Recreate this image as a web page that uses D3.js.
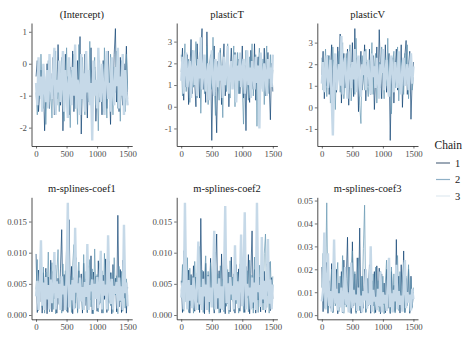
<!DOCTYPE html>
<html><head><meta charset="utf-8">
<script src="https://cdn.jsdelivr.net/npm/d3@7"></script>
<style>body{margin:0;background:#fff;} svg{display:block;} svg text{font-family:"Liberation Serif","DejaVu Serif",serif;}</style>
</head><body>
<svg id="chart" width="474" height="338"></svg>
<script>
// ---- data (thinned MCMC draws) ----
const panelNames = ["(Intercept)", "plasticT", "plasticV", "m-splines-coef1", "m-splines-coef2", "m-splines-coef3"];
const chainNames = ["1", "2", "3"];
const xTickValues = [0, 500, 1000, 1500];
const xTickLabels = ["0", "500", "1000", "1500"];
const yTickValues = [[-2, -1, 0, 1], [-1, 0, 1, 2, 3], [-1, 0, 1, 2, 3],
  [0, 0.005, 0.01, 0.015], [0, 0.005, 0.01, 0.015], [0, 0.01, 0.02, 0.03, 0.04, 0.05]];
const yTickLabels = [["-2", "-1", "0", "1"], ["-1", "0", "1", "2", "3"], ["-1", "0", "1", "2", "3"],
  ["0.000", "0.005", "0.010", "0.015"], ["0.000", "0.005", "0.010", "0.015"], ["0.00", "0.01", "0.02", "0.03", "0.04", "0.05"]];
const nIterations = 1500;

const interceptC1 = [-0.4,0.1,-1.5,-0.9,-0.2,-1.2,-0.6,-2.1,-1.0,0.0,-0.8,-1.4,-0.3,-0.9,0.2,-1.6,-0.5,-1.1,0.6,-0.7,-1.3,-0.2,-2.1,-0.9,0.3,-1.0,-0.4,-1.6,-0.1,-0.8,0.4,-1.5,-0.6,-1.2,0.1,-0.9,0.85,-2.2,-0.5,-1.1,0.3,-0.7,-1.7,-0.2,-1.0,0.5,-1.3,-0.6,-0.1,-1.8,-0.8,0.2,-1.2,-0.4,-1.6,0.1,-0.9,-0.3,-1.4,0.4,-0.7,-1.9,-0.2,-1.0,0.3,1.1,-1.2,-0.6,-1.5,0.2,-0.8,-1.3,0.0,-0.5,0.55,-1.1];
const interceptC2 = [-0.9,-1.6,-0.2,-1.1,0.3,-0.7,-1.4,-0.4,-1.9,-0.6,0.1,-1.2,-0.8,-1.7,-0.1,-1.0,0.4,-1.3,-0.5,-1.5,-0.3,0.2,-1.1,-1.8,-0.6,0.5,-1.2,-0.8,-2.0,-0.2,-1.0,0.3,-1.4,-0.7,-1.9,0.6,-0.5,-1.3,0.2,-0.9,-1.6,0.0,-0.6,-1.2,0.7,-1.0,-2.0,-0.4,0.2,-1.3,-0.7,-2.1,0.1,-1.0,-0.3,-1.5,0.5,-0.8,-1.7,-0.2,-1.1,0.3,-0.6,-1.6,-0.1,-0.9,0.4,-1.4,-0.5,-1.8,0.1,-1.0,-0.4,-1.5,0.3,-0.8];
const interceptC3 = [-0.6,-1.3,0.2,-1.0,-0.4,-1.5,0.0,-0.8,-1.2,-0.2,-1.4,0.3,-0.7,-1.1,-0.3,0.5,-1.6,-0.5,-0.9,0.1,-1.2,-0.6,0.4,-1.5,-0.2,-0.9,-1.7,0.2,-0.7,-1.3,-0.1,-1.0,0.6,-1.4,-0.5,-0.8,-1.6,0.3,-1.1,-0.3,-1.5,0.4,-0.9,-0.2,-1.3,-0.6,-2.4,0.1,-1.0,-0.5,-1.4,0.5,-0.8,-1.2,0.0,-0.7,-1.6,-0.3,0.4,-1.1,-0.6,-1.5,0.2,-0.9,-1.3,-0.1,-0.7,0.5,-1.4,-0.4,-1.0,0.3,-1.6,-0.2,-0.9,-1.3];

const plasticTC1 = [1.6,2.7,0.3,1.9,0.9,2.4,0.1,1.5,3.1,0.6,2.2,1.1,0.0,2.9,1.4,0.4,2.5,3.6,0.8,1.8,0.2,3.45,1.2,0.5,2.3,-1.55,1.7,2.8,0.7,-1.2,2.1,1.3,2.6,0.1,1.9,2.9,0.5,1.4,2.2,0.0,1.6,2.7,0.9,1.2,2.5,0.3,1.8,2.2,0.6,1.5,2.8,0.4,1.9,-1.1,2.4,1.0,0.2,2.6,1.3,0.8,2.9,0.3,1.7,2.3,-0.2,1.4,2.0,0.9,2.7,0.5,1.8,2.5,1.1,-0.6,2.0,0.7];
const plasticTC2 = [2.4,0.5,1.8,2.9,0.7,1.4,2.2,0.2,1.6,2.6,0.9,1.9,3.0,0.4,1.3,2.5,-0.3,1.7,2.1,0.6,1.5,2.8,0.1,1.9,2.4,0.8,3.2,1.0,-0.4,2.0,1.2,0.3,2.7,1.5,-0.5,2.3,1.8,0.7,2.9,1.1,0.4,2.1,1.6,2.8,0.0,1.3,2.5,0.6,1.9,2.2,0.9,-0.8,1.7,2.6,1.2,0.3,2.3,1.6,2.9,0.5,1.4,2.4,-0.9,1.8,2.7,0.8,1.5,2.2,0.1,1.9,2.8,0.6,1.3,2.4,0.9,1.7];
const plasticTC3 = [1.2,2.3,0.6,1.8,2.5,0.9,1.5,2.1,0.4,1.7,2.6,1.0,1.9,0.5,2.2,1.3,3.2,0.8,1.6,2.4,0.7,1.4,2.0,0.3,1.8,2.6,1.1,0.5,2.2,1.5,0.9,2.5,1.2,1.9,0.4,2.3,1.0,1.7,2.8,0.6,1.4,2.1,0.8,1.6,2.4,0.2,1.9,1.2,2.5,0.9,1.7,2.2,0.6,1.3,2.6,1.0,1.8,0.4,2.1,1.5,0.8,2.3,1.1,1.9,-1.0,2.5,1.4,0.7,2.0,1.6,0.5,2.2,1.3,1.8,0.9,2.4];

const plasticVC1 = [1.5,2.6,0.4,1.9,1.0,2.4,0.6,1.7,2.9,0.3,2.2,1.3,0.7,2.8,1.6,3.4,0.2,1.8,2.5,0.9,1.4,2.7,0.1,2.0,1.2,3.0,0.5,3.65,1.1,2.3,-0.2,1.7,2.6,0.8,1.5,2.9,0.3,2.1,1.0,2.7,0.6,1.8,2.4,-0.1,1.3,2.8,0.9,3.6,1.6,0.4,2.2,1.1,2.9,0.7,1.9,2.5,-1.53,1.4,2.3,0.2,1.7,2.7,0.8,2.0,1.2,2.9,0.0,1.6,2.4,3.1,0.6,1.9,2.6,-0.55,1.3,2.1];
const plasticVC2 = [2.3,0.8,1.6,2.7,0.5,1.9,2.4,0.2,1.4,2.8,1.1,-0.1,2.0,1.5,2.6,0.7,1.8,3.0,0.4,1.3,2.5,0.9,1.7,2.9,0.3,1.2,2.2,0.6,3.2,1.4,2.0,0.1,-0.75,2.4,1.6,0.8,2.7,1.1,0.5,2.2,1.5,3.0,0.6,1.9,2.5,0.2,1.3,2.1,0.9,2.8,1.7,0.4,2.3,1.0,3.2,0.7,1.5,-0.3,2.0,2.6,0.9,1.4,2.8,0.3,1.8,2.2,1.1,0.6,2.5,1.7,2.9,0.4,1.6,2.2,0.8,1.4];
const plasticVC3 = [1.1,2.1,0.7,1.7,2.4,0.9,1.4,2.2,0.5,-1.3,1.8,2.5,0.8,1.5,2.0,1.0,3.3,0.6,1.9,2.3,1.2,0.4,2.6,1.6,0.9,2.1,1.3,2.7,0.7,1.8,2.4,1.0,0.5,2.0,1.5,2.6,0.8,1.7,2.2,1.1,0.6,2.5,1.4,1.9,0.9,2.3,1.2,0.4,2.0,1.6,2.7,0.8,1.5,2.2,1.0,0.5,1.8,2.4,1.3,0.7,2.1,1.6,0.9,2.6,1.2,0.6,1.9,2.3,1.0,1.5,2.0,0.8,1.7,2.5,1.1,1.9];

const coef1C1 = [0.0098,0.0004,0.0072,0.0021,0.0085,0.0003,0.0068,0.0030,0.0075,0.0002,0.0061,0.0014,0.0088,0.0005,0.0070,0.0026,0.0080,0.0003,0.0059,0.0018,0.0074,0.0137,0.0006,0.0065,0.0022,0.0110,0.0004,0.0153,0.0035,0.0078,0.0002,0.0060,0.0019,0.0092,0.0005,0.0071,0.0028,0.0066,0.0003,0.0083,0.0015,0.0058,0.0004,0.0079,0.0024,0.0095,0.0002,0.0069,0.0031,0.0062,0.0006,0.0087,0.0017,0.0072,0.0003,0.0064,0.0025,0.0090,0.0004,0.0076,0.0020,0.0068,0.0002,0.0081,0.0033,0.0059,0.0005,0.0160,0.0013,0.0073,0.0004,0.0088,0.0027,0.0065,0.0003,0.0045];
const coef1C2 = [0.0041,0.0089,0.0007,0.0063,0.0118,0.0012,0.0077,0.0003,0.0069,0.0036,0.0101,0.0005,0.0058,0.0084,0.0009,0.0073,0.0002,0.0066,0.0105,0.0016,0.0056,0.0003,0.0082,0.0029,0.0071,0.0006,0.0094,0.0020,0.0062,0.0004,0.0079,0.0113,0.0011,0.0067,0.0003,0.0085,0.0034,0.0057,0.0008,0.0097,0.0023,0.0070,0.0004,0.0061,0.0089,0.0013,0.0074,0.0002,0.0106,0.0038,0.0065,0.0005,0.0083,0.0019,0.0071,0.0003,0.0099,0.0027,0.0060,0.0007,0.0086,0.0015,0.0068,0.0004,0.0092,0.0032,0.0063,0.0002,0.0078,0.0021,0.0070,0.0006,0.0084,0.0011,0.0058,0.0030];
const coef1C3 = [0.0030,0.0055,0.0008,0.0046,0.0120,0.0015,0.0052,0.0008,0.0061,0.0025,0.0048,0.0009,0.0057,0.0019,0.0043,0.0101,0.0009,0.0054,0.0027,0.0050,0.0008,0.0062,0.0033,0.0047,0.0008,0.0058,0.0180,0.0012,0.0049,0.0024,0.0056,0.0009,0.0140,0.0036,0.0051,0.0010,0.0060,0.0022,0.0045,0.0008,0.0053,0.0029,0.0114,0.0008,0.0048,0.0038,0.0057,0.0008,0.0050,0.0026,0.0061,0.0011,0.0044,0.0103,0.0009,0.0055,0.0031,0.0049,0.0009,0.0128,0.0042,0.0018,0.0058,0.0009,0.0047,0.0034,0.0053,0.0010,0.0060,0.0023,0.0046,0.0008,0.0145,0.0035,0.0052,0.0014];

const coef2C1 = [0.0055,0.0004,0.0103,0.0102,0.0087,0.0012,0.0072,0.0003,0.0065,0.0028,0.0079,0.0006,0.0061,0.0020,0.0088,0.0004,0.0155,0.0033,0.0070,0.0002,0.0083,0.0016,0.0064,0.0005,0.0091,0.0025,0.0068,0.0003,0.0077,0.0130,0.0010,0.0071,0.0004,0.0098,0.0029,0.0062,0.0002,0.0085,0.0018,0.0069,0.0005,0.0093,0.0022,0.0066,0.0003,0.0081,0.0036,0.0074,0.0006,0.0089,0.0015,0.0063,0.0004,0.0078,0.0027,0.0097,0.0002,0.0067,0.0135,0.0011,0.0073,0.0003,0.0086,0.0024,0.0061,0.0005,0.0092,0.0019,0.0070,0.0004,0.0082,0.0031,0.0085,0.0007,0.0060,0.0026];
const coef2C2 = [0.0038,0.0081,0.0006,0.0069,0.0021,0.0092,0.0004,0.0075,0.0015,0.0062,0.0003,0.0086,0.0030,0.0067,0.0008,0.0110,0.0017,0.0072,0.0004,0.0058,0.0095,0.0012,0.0070,0.0002,0.0084,0.0026,0.0063,0.0007,0.0101,0.0019,0.0066,0.0003,0.0079,0.0035,0.0058,0.0005,0.0090,0.0014,0.0073,0.0002,0.0087,0.0024,0.0061,0.0006,0.0106,0.0018,0.0069,0.0003,0.0082,0.0032,0.0059,0.0004,0.0096,0.0013,0.0071,0.0005,0.0088,0.0022,0.0064,0.0003,0.0093,0.0016,0.0068,0.0004,0.0080,0.0029,0.0057,0.0008,0.0099,0.0130,0.0012,0.0074,0.0003,0.0086,0.0021,0.0062];
const coef2C3 = [0.0028,0.0052,0.0009,0.0180,0.0041,0.0009,0.0056,0.0023,0.0048,0.0011,0.0060,0.0034,0.0008,0.0053,0.0118,0.0017,0.0045,0.0008,0.0058,0.0030,0.0049,0.0008,0.0062,0.0021,0.0044,0.0012,0.0055,0.0135,0.0009,0.0050,0.0027,0.0059,0.0010,0.0046,0.0008,0.0057,0.0175,0.0019,0.0051,0.0008,0.0061,0.0033,0.0047,0.0009,0.0112,0.0024,0.0054,0.0011,0.0043,0.0129,0.0014,0.0058,0.0165,0.0009,0.0050,0.0031,0.0044,0.0009,0.0060,0.0020,0.0052,0.0008,0.0180,0.0037,0.0048,0.0013,0.0125,0.0025,0.0055,0.0008,0.0046,0.0122,0.0018,0.0057,0.0009,0.0049];

const coef3C1 = [0.0210,0.0015,0.0180,0.0040,0.0230,0.0008,0.0150,0.0030,0.0225,0.0012,0.0170,0.0050,0.0200,0.0006,0.0140,0.0035,0.0190,0.0010,0.0240,0.0045,0.0160,0.0340,0.0020,0.0210,0.0007,0.0320,0.0040,0.0180,0.0012,0.0250,0.0060,0.0380,0.0009,0.0170,0.0030,0.0200,0.0014,0.0160,0.0050,0.0220,0.0008,0.0150,0.0040,0.0190,0.0011,0.0215,0.0035,0.0205,0.0006,0.0180,0.0045,0.0140,0.0010,0.0200,0.0030,0.0160,0.0007,0.0190,0.0050,0.0130,0.0015,0.0330,0.0040,0.0170,0.0009,0.0220,0.0030,0.0280,0.0012,0.0160,0.0045,0.0200,0.0008,0.0170,0.0035,0.0100];
const coef3C2 = [0.0120,0.0270,0.0030,0.0160,0.0490,0.0020,0.0140,0.0060,0.0200,0.0010,0.0180,0.0040,0.0150,0.0230,0.0015,0.0170,0.0050,0.0260,0.0008,0.0190,0.0035,0.0140,0.0210,0.0012,0.0160,0.0280,0.0045,0.0190,0.0007,0.0150,0.0250,0.0020,0.0170,0.0055,0.0290,0.0480,0.0010,0.0160,0.0040,0.0200,0.0130,0.0025,0.0180,0.0008,0.0210,0.0050,0.0150,0.0015,0.0190,0.0035,0.0170,0.0006,0.0140,0.0240,0.0030,0.0160,0.0012,0.0210,0.0045,0.0180,0.0009,0.0150,0.0260,0.0020,0.0190,0.0050,0.0140,0.0230,0.0010,0.0170,0.0040,0.0220,0.0015,0.0160,0.0030,0.0120];
const coef3C3 = [0.0060,0.0110,0.0360,0.0025,0.0090,0.0270,0.0040,0.0105,0.0015,0.0080,0.0330,0.0050,0.0115,0.0020,0.0095,0.0035,0.0120,0.0012,0.0085,0.0210,0.0045,0.0100,0.0012,0.0075,0.0230,0.0030,0.0110,0.0055,0.0090,0.0018,0.0120,0.0040,0.0085,0.0012,0.0105,0.0065,0.0200,0.0028,0.0095,0.0045,0.0300,0.0015,0.0110,0.0060,0.0080,0.0022,0.0115,0.0038,0.0190,0.0012,0.0100,0.0050,0.0088,0.0018,0.0120,0.0250,0.0035,0.0095,0.0012,0.0110,0.0060,0.0220,0.0025,0.0105,0.0045,0.0085,0.0015,0.0118,0.0240,0.0030,0.0100,0.0055,0.0090,0.0020,0.0115,0.0070];

const panelSeries = [
  [interceptC1, interceptC2, interceptC3],
  [plasticTC1, plasticTC2, plasticTC3],
  [plasticVC1, plasticVC2, plasticVC3],
  [coef1C1, coef1C2, coef1C3],
  [coef2C1, coef2C2, coef2C3],
  [coef3C1, coef3C2, coef3C3]
];

// ---- layout & style ----
const chainColors = ["#03396c", "#6497b1", "#c6d9e8"];
const chainWidths = [0.65, 0.7, 2.4];
const legendColors = ["#5b6f86", "#8fb0c6", "#dfe9f1"];
const colLeft = [31.5, 176.7, 317.3];
const panelW = 100.7;
const rowTop = [23, 197.3];
const panelH = [123, 122];
const fontFamily = '"Liberation Serif", "DejaVu Serif", serif';

const svg = d3.select("#chart");

panelSeries.forEach((series, p) => {
  const col = p % 3, row = Math.floor(p / 3);
  const x0 = colLeft[col], y0 = rowTop[row], w = panelW, h = panelH[row];
  const ext = [1, nIterations];
  const xPad = (ext[1] - ext[0]) * 0.05;
  const x = d3.scaleLinear().domain([ext[0] - xPad, ext[1] + xPad]).range([x0, x0 + w]);
  const allVals = series.flat();
  const yExt = d3.extent(allVals);
  const yPad = (yExt[1] - yExt[0]) * 0.05;
  const y = d3.scaleLinear().domain([yExt[0] - yPad, yExt[1] + yPad]).range([y0 + h, y0]);

  const g = svg.append("g");
  series.forEach((vals, c) => {
    const n = vals.length;
    const pts = vals.map((v, i) => ({ iter: 1 + i * (nIterations - 1) / (n - 1), v }));
    const line = d3.line().x(d => x(d.iter)).y(d => y(d.v));
    g.append("path").datum(pts).attr("d", line)
      .attr("fill", "none").attr("stroke", chainColors[c]).attr("stroke-width", chainWidths[c])
      .attr("stroke-linejoin", "miter").attr("stroke-miterlimit", 1.2);
  });

  const ax = g.append("g").attr("transform", `translate(0,${y0 + h})`)
    .call(d3.axisBottom(x).tickValues(xTickValues).tickFormat((d, i) => xTickLabels[i]).tickSize(2.5).tickSizeOuter(0).tickPadding(2));
  const ay = g.append("g").attr("transform", `translate(${x0},0)`)
    .call(d3.axisLeft(y).tickValues(yTickValues[p]).tickFormat((d, i) => yTickLabels[p][i]).tickSize(2.5).tickSizeOuter(0).tickPadding(2));
  [ax, ay].forEach(a => {
    a.attr("font-family", fontFamily);
    a.select(".domain").attr("stroke", "#222").attr("stroke-width", 0.8);
    a.selectAll(".tick line").attr("stroke", "#333").attr("stroke-width", 0.7);
    a.selectAll(".tick text").attr("fill", "#4d4d4d").attr("font-family", fontFamily).attr("font-size", "8.8px");
  });

  g.append("text").attr("x", x0 + w / 2).attr("y", y0 - 5)
    .attr("text-anchor", "middle").attr("font-family", fontFamily).attr("font-size", "10.5px").attr("fill", "#1a1a1a")
    .text(panelNames[p]);
});

// legend
const lg = svg.append("g");
lg.append("text").attr("x", 434.5).attr("y", 149).attr("font-family", fontFamily).attr("font-size", "11.5px").attr("fill", "#1a1a1a").text("Chain");
const legendY = d3.scalePoint().domain(chainNames).range([163, 196]);
chainNames.forEach((name, i) => {
  lg.append("line").attr("x1", 436).attr("x2", 450).attr("y1", legendY(name)).attr("y2", legendY(name))
    .attr("stroke", legendColors[i]).attr("stroke-width", 1.2);
  lg.append("text").attr("x", 455).attr("y", legendY(name)).attr("dy", "0.35em")
    .attr("font-family", fontFamily).attr("font-size", "10.5px").attr("fill", "#1a1a1a").text(name);
});
</script>
</body></html>
